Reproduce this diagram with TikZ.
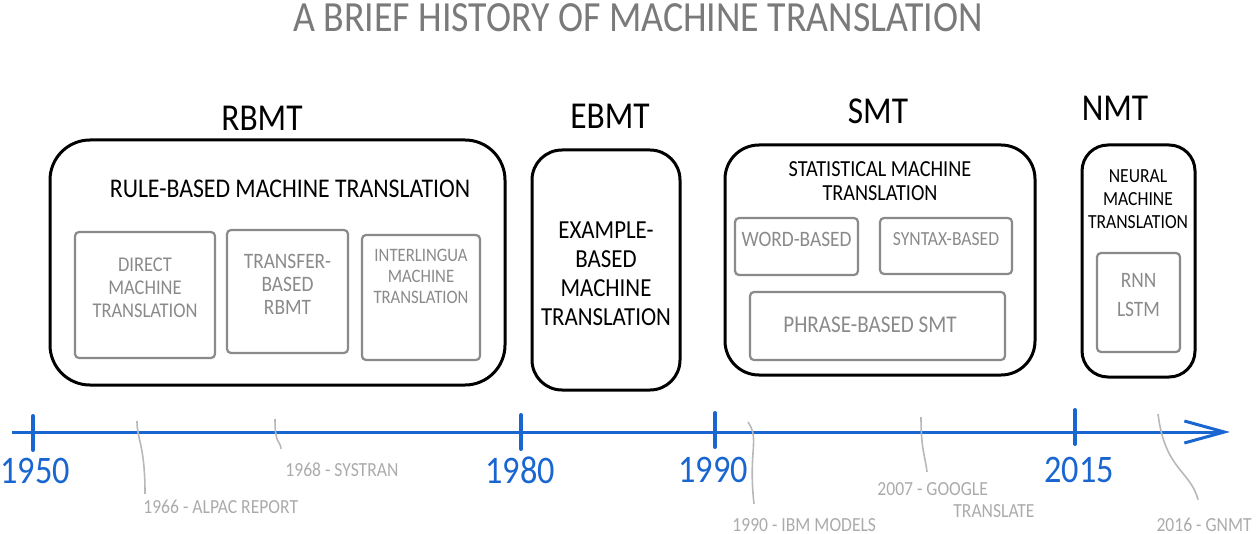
\documentclass[tikz,border=0pt]{standalone}
\usepackage{fontspec}
\setmainfont{Carlito}[FakeStretch=0.88]
\usetikzlibrary{arrows.meta,fit}
\definecolor{axisblue}{HTML}{1A66D0}
\definecolor{titlegray}{HTML}{7A7A7A}
\definecolor{boxgray}{HTML}{8A8A8A}
\definecolor{eventgray}{HTML}{ABABAB}
\newcommand{\fs}[1]{\fontsize{#1}{1.1\dimexpr#1pt\relax}\selectfont}
\tikzset{
  bigbox/.style={draw, line width=1.5pt, inner sep=0pt},
  subbox/.style={draw=boxgray, line width=1.1pt, rounded corners=2pt, inner sep=0pt,
    text=boxgray, align=center},
  catlabel/.style={font=\fs{19}},
  boxtitle/.style={align=center},
  yearlabel/.style={text=axisblue, font=\fs{19.5}},
  event/.style={text=eventgray, font=\fs{10}, inner sep=1pt, align=left},
  leader/.style={draw=eventgray!85, line width=0.8pt}
}
\begin{document}
\begin{tikzpicture}[x=0.5pt,y=-0.5pt]
\useasboundingbox (0,0) rectangle (1257,534);
\node[text=titlegray, font=\fs{21.5}] (title) at (638,18) {A BRIEF HISTORY OF MACHINE TRANSLATION};
% categories
\node[catlabel] (rbmtlab) at (262,118) {RBMT};
\node[catlabel] (ebmtlab) at (610,116) {EBMT};
\node[catlabel] (smtlab) at (878,111) {SMT};
\node[catlabel] (nmtlab) at (1115,108) {NMT};
% rule-based
\node[bigbox, rounded corners=20pt, fit={(50,140) (505,385)}] (rbmt) {};
\node[font=\fs{13.5}] (rbmttitle) at (290,189) {RULE-BASED MACHINE TRANSLATION};
\node[subbox, font={\fontsize{10.5}{11.5}\selectfont}, fit={(75,232) (215,358)}] (direct) {DIRECT\\MACHINE\\TRANSLATION};
\node[subbox, font={\fontsize{11}{11.5}\selectfont}, fit={(227,230) (348,353)}] (transfer) {TRANSFER-\\BASED\\RBMT};
\node[subbox, font={\fontsize{9.5}{10.5}\selectfont}, fit={(362,235) (480,360)}] (inter) {\raisebox{5pt}{\parbox{55pt}{\centering INTERLINGUA\\MACHINE\\TRANSLATION}}};
% example-based
\node[bigbox, rounded corners=15pt, fit={(532,150) (680,390)}] (ebmt) {};
\node[boxtitle, font={\fontsize{13}{14.5}\selectfont}] (ebmttitle) at (606,274) {EXAMPLE-\\BASED\\MACHINE\\TRANSLATION};
% statistical
\node[bigbox, rounded corners=17pt, fit={(725,145) (1035,375)}] (smt) {};
\node[boxtitle, font={\fontsize{11.5}{12}\selectfont}] (smttitle) at (880,181) {STATISTICAL MACHINE\\TRANSLATION};
\node[subbox, font=\fs{11}, fit={(735,218) (858,275)}] (word) {WORD-BASED};
\node[subbox, font=\fs{10}, fit={(880,218) (1012,274)}] (syntax) {SYNTAX-BASED};
\node[subbox, fit={(750,292) (1005,360)}] (phrase) {};
\node[text=boxgray, font=\fs{12}] (phrasetext) at (870,325) {PHRASE-BASED SMT};
% neural
\node[bigbox, rounded corners=13pt, fit={(1082,145) (1195,377)}] (nmt) {};
\node[boxtitle, font={\fontsize{10}{11.5}\selectfont}] (nmttitle) at (1138,199) {NEURAL\\MACHINE\\TRANSLATION};
\node[subbox, font={\fontsize{11}{14.5}\selectfont}, fit={(1097,253) (1180,352)}] (rnn) {RNN\\LSTM};
% timeline
\draw[axisblue, line width=1.5pt, -{Straight Barb[length=20pt,width=11pt,line width=1.5pt]}] (12,432) -- (1230,432);
\foreach \x/\yr/\top in {33/1950/416, 521/1980/415, 715/1990/413, 1075/2015/410}{
  \draw[axisblue, line width=2pt, line cap=round] (\x,\top) -- (\x,\top+34);
}
\node[yearlabel] (y1950) at (35,471) {1950};
\node[yearlabel] (y1980) at (520,470) {1980};
\node[yearlabel] (y1990) at (713,470) {1990};
\node[yearlabel] (y2015) at (1079,470) {2015};
% events
\coordinate (e1966) at (137,421);
\coordinate (e1968) at (275,419);
\coordinate (e1990) at (748,422);
\coordinate (e2007) at (921,417);
\coordinate (e2016) at (1158,414);
\node[event, anchor=west] (alpac) at (141,507) {1966 - ALPAC REPORT};
\node[event, anchor=west] (systran) at (283,470) {1968 - SYSTRAN};
\node[event, anchor=west] (ibm) at (730,525) {1990 - IBM MODELS};
\node[event, anchor=north west] (google) at (875,480) {2007 - GOOGLE\\\hspace*{38pt}TRANSLATE};
\node[event, anchor=east] (gnmt) at (1254,525) {2016 - GNMT};
\draw[leader] (e1966) .. controls (137,440) and (145,445) .. ([xshift=2pt,yshift=2pt]alpac.north west);
\draw[leader] (e1968) .. controls (275,445) and (280,440) .. ([xshift=-1pt,yshift=6pt]systran.north west);
\draw[leader] (e1990) .. controls (760,440) and (748,450) .. ([xshift=12pt,yshift=6pt]ibm.north west);
\draw[leader] (e2007) .. controls (921,450) and (925,455) .. ([xshift=26pt,yshift=4pt]google.north west);
\draw[leader] (e2016) .. controls (1165,470) and (1190,470) .. ([xshift=22pt,yshift=8pt]gnmt.north west);
\end{tikzpicture}
\end{document}
